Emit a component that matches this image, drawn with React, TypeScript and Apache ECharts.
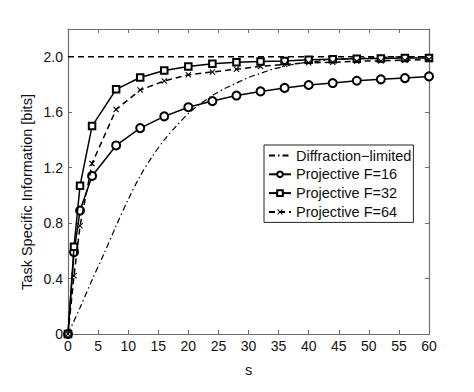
import React, { useEffect, useRef } from "react";
import * as echarts from "echarts";

const sProj = [0, 1, 2, 4, 8, 12, 16, 20, 24, 28, 32, 36, 40, 44, 48, 52, 56, 60];
const f16 = [0, 0.59, 0.89, 1.14, 1.36, 1.485, 1.57, 1.636, 1.68, 1.72, 1.75, 1.775, 1.796, 1.81, 1.827, 1.837, 1.846, 1.858];
const f32 = [0, 0.63, 1.07, 1.5, 1.765, 1.85, 1.9, 1.93, 1.95, 1.96, 1.965, 1.97, 1.978, 1.982, 1.986, 1.988, 1.99, 1.99];
const f64 = [0, 0.42, 0.78, 1.23, 1.62, 1.76, 1.825, 1.87, 1.89, 1.91, 1.93, 1.945, 1.956, 1.96, 1.968, 1.97, 1.975, 1.98];

const sDiff = [0, 2, 4, 6, 8, 10, 12, 14, 16, 18, 20, 22, 24, 26, 28, 30, 32, 34, 36, 38, 40, 44, 48, 52, 56, 60];
const diff = [0, 0.19, 0.39, 0.58, 0.78, 0.97, 1.14, 1.28, 1.4, 1.5, 1.59, 1.66, 1.72, 1.77, 1.81, 1.85, 1.88, 1.91, 1.93, 1.95, 1.96, 1.98, 1.99, 1.995, 2.0, 2.0];

const upperBound = 2.0;
const seriesNames = ["Diffraction\u2212limited", "Projective F=16", "Projective F=32", "Projective F=64"];
const xTicks = [0, 60, 5];
const yTicks = [0, 2.2, 0.4];
const yTitle = "Task Specific Information [bits]";

const FONT = "'Liberation Sans', Arial, sans-serif";
const AXIS_COLOR = "#6e6e6e";
const X_MARK = "path://M0,1.2 L1.2,0 L5,3.8 L8.8,0 L10,1.2 L6.2,5 L10,8.8 L8.8,10 L5,6.2 L1.2,10 L0,8.8 L3.8,5 Z";

function pairs(xs: number[], ys: number[]) {
  return xs.map((x, i) => [x, ys[i]]);
}

export default function App() {
  const ref = useRef<HTMLDivElement>(null);
  useEffect(() => {
    if (!ref.current) return;
    const chart = echarts.init(ref.current, null, { renderer: "svg" });
    const axisCommon = {
      axisLine: { show: true, onZero: false, lineStyle: { color: AXIS_COLOR, width: 1.2 } },
      axisTick: { show: true, inside: true, length: 4, lineStyle: { color: AXIS_COLOR } },
      splitLine: { show: false },
    };
    chart.setOption({
      animation: false,
      backgroundColor: "#fff",
      textStyle: { fontFamily: FONT },
      grid: { left: 68, right: 45, top: 29, bottom: 58 },
      graphic: [
        {
          type: "text",
          x: 27,
          y: 192,
          rotation: Math.PI / 2,
          style: {
            text: yTitle,
            fill: "#111",
            font: "14.5px " + FONT,
            textAlign: "center",
            textVerticalAlign: "middle",
          },
        },
      ],
      xAxis: [
        {
          type: "value",
          min: xTicks[0],
          max: xTicks[1],
          interval: xTicks[2],
          name: "s",
          nameLocation: "middle",
          nameGap: 28,
          nameTextStyle: { color: "#111", fontSize: 14.5, fontFamily: FONT },
          axisLabel: { color: "#111", fontSize: 14, margin: 5, fontFamily: FONT },
          ...axisCommon,
        },
        {
          type: "value",
          position: "top",
          min: xTicks[0],
          max: xTicks[1],
          interval: xTicks[2],
          axisLabel: { show: false },
          ...axisCommon,
        },
      ],
      yAxis: [
        {
          type: "value",
          min: yTicks[0],
          max: yTicks[1],
          interval: yTicks[2],
          axisLabel: {
            color: "#111",
            fontSize: 14,
            margin: 5,
            fontFamily: FONT,
            showMaxLabel: false,
            formatter: (v: number) => (v === 0 ? "0" : v > 2.1 ? "" : v.toFixed(1)),
          },
          ...axisCommon,
        },
        {
          type: "value",
          position: "right",
          min: yTicks[0],
          max: yTicks[1],
          interval: yTicks[2],
          axisLabel: { show: false },
          ...axisCommon,
        },
      ],
      legend: {
        data: [
          { name: seriesNames[0], itemStyle: { color: "transparent", borderColor: "transparent", borderWidth: 0, opacity: 0 } },
          { name: seriesNames[1] },
          { name: seriesNames[2] },
          { name: seriesNames[3] },
        ],
        orient: "vertical",
        left: 264,
        top: 145,
        width: 148,
        padding: [3, 2, 3, 4],
        itemGap: 3.8,
        itemWidth: 22,
        itemHeight: 7,
        backgroundColor: "#fff",
        borderColor: "#222",
        borderWidth: 1,
        borderRadius: 0,
        textStyle: { color: "#111", fontSize: 14.5, lineHeight: 14, fontFamily: FONT },
      },
      series: [
        {
          name: "bound",
          type: "line",
          data: [
            [xTicks[0], upperBound],
            [xTicks[1], upperBound],
          ],
          symbol: "none",
          lineStyle: { color: "#000", width: 1.3, type: [6, 4] },
          itemStyle: { color: "#000" },
          z: 1,
        },
        {
          name: seriesNames[0],
          type: "line",
          data: pairs(sDiff, diff),
          smooth: 0.3,
          symbol: "circle",
          showSymbol: false,
          lineStyle: { color: "#000", width: 1.2, type: [6, 3, 1.5, 3] },
          itemStyle: { color: "#000" },
          z: 2,
        },
        {
          name: seriesNames[1],
          type: "line",
          data: pairs(sProj, f16),
          symbol: "emptyCircle",
          symbolSize: 8,
          lineStyle: { color: "#000", width: 1.5 },
          itemStyle: { color: "#000", borderColor: "#000", borderWidth: 1.2 },
          z: 3,
        },
        {
          name: seriesNames[2],
          type: "line",
          data: pairs(sProj, f32),
          symbol: "emptyRect",
          symbolSize: 6.5,
          lineStyle: { color: "#000", width: 1.5 },
          itemStyle: { color: "#000", borderColor: "#000", borderWidth: 1.2 },
          z: 4,
        },
        {
          name: seriesNames[3],
          type: "line",
          data: pairs(sProj, f64),
          symbol: X_MARK,
          symbolSize: 6,
          lineStyle: { color: "#000", width: 1.5, type: [6, 4] },
          itemStyle: { color: "#000" },
          z: 5,
        },
      ],
    });
    return () => chart.dispose();
  }, []);
  return <div ref={ref} style={{ width: 474, height: 392, position: "absolute", left: 0, top: 0 }} />;
}
